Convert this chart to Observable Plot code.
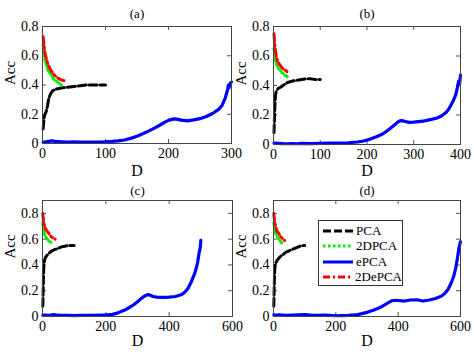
<!DOCTYPE html>
<html><head><meta charset="utf-8">
<script src="https://cdn.jsdelivr.net/npm/d3@7"></script>
<script src="https://cdn.jsdelivr.net/npm/@observablehq/plot@0.6"></script>
<style>
body{margin:0;background:#fff;}
#wrap{position:relative;width:474px;height:354px;font-family:"Liberation Serif","Times New Roman",serif;overflow:hidden;}
.p{position:absolute;}
.p svg{overflow:visible;}
#legend{position:absolute;left:318px;top:220px;width:85px;height:66px;border:1px solid #333;background:#fff;box-sizing:border-box;font-size:13px;padding-top:2px;}
#legend .row{display:flex;align-items:center;height:15.5px;margin-left:4px;}
#legend svg{margin-right:3px;}
</style></head><body><div id="wrap"></div>
<script>
// ---- tick labels / axes ----
const panelTitles = ["(a)", "(b)", "(c)", "(d)"];
const xMax = [300, 400, 600, 600];
const yMax = [0.8, 0.8, 0.9, 0.9];
const xTicksA = [0, 100, 200, 300];
const xTicksB = [0, 100, 200, 300, 400];
const xTicksC = [0, 200, 400, 600];
const xTicksD = [0, 200, 400, 600];
const yTicks = [0, 0.2, 0.4, 0.6, 0.8];
const seriesNames = ["PCA", "2DPCA", "ePCA", "2DePCA"];

// ---- PCA (D grid shared) ----
const pcaD = [1,2,3,4,5,6,8,10,13,16,20,25,30,40,50,60,70,80,90,100];
const pcaA = [0.10,0.15,0.19,0.20,0.21,0.22,0.26,0.31,0.34,0.36,0.37,0.375,0.38,0.385,0.39,0.395,0.40,0.40,0.40,0.40];
const pcaB = [0.08,0.18,0.26,0.32,0.35,0.36,0.37,0.38,0.385,0.39,0.40,0.41,0.42,0.43,0.435,0.44,0.445,0.445,0.44,0.44];
const pcaC = [0.08,0.20,0.30,0.38,0.42,0.43,0.45,0.46,0.47,0.48,0.49,0.50,0.51,0.52,0.53,0.54,0.545,0.55,0.55,0.55];
const pcaDd = [0.08,0.20,0.30,0.36,0.39,0.41,0.42,0.43,0.44,0.45,0.46,0.47,0.48,0.50,0.51,0.52,0.53,0.54,0.55,0.55];

// ---- 2DPCA ----
const tdD = [1,2,3,4,5,6,8,10,12,15,18,21,24,27,30];
const tdA = [0.68,0.64,0.60,0.57,0.55,0.54,0.51,0.49,0.48,0.46,0.44,0.43,0.42,0.41,0.40];
const tdB = [0.65,0.62,0.59,0.57,0.56,0.55,0.53,0.52,0.51,0.50,0.49,0.48,0.47,0.465,0.46];
const tdC = [0.73,0.70,0.68,0.66,0.65,0.645,0.63,0.62,0.61,0.60,0.59,0.585,0.58,0.575,0.57];
const tdDd = [0.73,0.71,0.69,0.67,0.66,0.65,0.64,0.63,0.62,0.61,0.60,0.59,0.58,0.57,0.565];

// ---- 2DePCA ----
const teD = [1,2,3,4,5,6,8,10,12,15,18,21,24,27,30,33,36,40];
const teA = [0.73,0.69,0.65,0.62,0.60,0.58,0.55,0.53,0.51,0.49,0.47,0.46,0.45,0.44,0.435,0.43,0.43];
const teB = [0.75,0.71,0.67,0.64,0.62,0.60,0.57,0.56,0.545,0.535,0.52,0.51,0.505,0.50,0.49];
const teC = [0.80,0.77,0.75,0.73,0.72,0.71,0.69,0.68,0.67,0.66,0.65,0.64,0.63,0.62,0.615,0.61,0.605,0.60];
const teDd = [0.80,0.77,0.75,0.73,0.72,0.71,0.69,0.67,0.66,0.65,0.64,0.63,0.615,0.61,0.60,0.595,0.59];

// ---- ePCA ----
const eD_a = [1,5,10,15,20,30,40,50,60,70,80,90,100,110,120,130,140,150,160,170,180,190,195,200,205,210,215,220,230,240,250,260,270,280,285,288,290,292,294,295,296,298,300];
const eA = [0.01,0.012,0.015,0.018,0.014,0.012,0.01,0.011,0.01,0.009,0.01,0.01,0.012,0.014,0.018,0.024,0.035,0.05,0.068,0.088,0.11,0.135,0.148,0.158,0.165,0.168,0.165,0.16,0.155,0.162,0.17,0.185,0.205,0.235,0.26,0.29,0.31,0.34,0.37,0.40,0.38,0.41,0.42];
const eD_b = [1,10,20,30,40,50,60,80,100,120,140,160,180,190,200,210,220,230,240,250,260,265,270,275,280,290,300,310,320,330,340,350,360,370,375,380,385,390,393,396,398,400];
const eB = [0.01,0.008,0.006,0.005,0.006,0.005,0.007,0.006,0.008,0.009,0.01,0.012,0.017,0.022,0.03,0.04,0.052,0.066,0.085,0.11,0.135,0.15,0.16,0.162,0.158,0.15,0.152,0.155,0.158,0.165,0.172,0.18,0.195,0.22,0.24,0.27,0.3,0.34,0.38,0.43,0.41,0.47];
const eD_c = [1,10,20,30,36,45,60,80,100,120,140,160,180,200,210,220,230,240,250,260,270,280,290,300,310,320,330,335,340,350,360,380,400,420,440,450,460,470,480,485,490,495,498,500];
const eC = [0.01,0.01,0.008,0.012,0.016,0.01,0.008,0.009,0.007,0.008,0.008,0.009,0.01,0.012,0.014,0.017,0.022,0.03,0.04,0.05,0.064,0.078,0.095,0.115,0.135,0.155,0.168,0.17,0.165,0.155,0.15,0.148,0.15,0.155,0.17,0.19,0.22,0.27,0.33,0.37,0.42,0.5,0.53,0.59];
const eD_d = [1,10,20,30,40,60,80,100,120,140,160,180,200,220,240,260,270,280,290,300,310,320,330,340,350,360,370,380,390,400,420,440,460,480,500,520,540,550,560,570,578,585,590,595,600];
const eDd = [0.012,0.01,0.012,0.01,0.008,0.01,0.012,0.015,0.01,0.008,0.01,0.008,0.006,0.007,0.008,0.012,0.015,0.02,0.026,0.032,0.04,0.048,0.058,0.068,0.08,0.095,0.11,0.122,0.126,0.124,0.12,0.128,0.13,0.12,0.128,0.14,0.16,0.18,0.21,0.26,0.31,0.38,0.45,0.53,0.58];

// ---- styles ----
const styles = {
  "PCA":    {stroke: "#000000", strokeWidth: 3, strokeDasharray: "8,3"},
  "2DPCA":  {stroke: "#00ee00", strokeWidth: 3, strokeDasharray: "2.5,2.5"},
  "ePCA":   {stroke: "#0000ff", strokeWidth: 3.2},
  "2DePCA": {stroke: "#ff0000", strokeWidth: 3, strokeDasharray: "7,3,2,3"}
};

const zip = (xs, ys) => ys.map((v, i) => ({D: xs[i], acc: v}));

const panels = [
  {title: panelTitles[0], xmax: xMax[0], ymax: yMax[0], xt: xTicksA, left: 0, top: 0, m: [26, 6, 34, 42], tdy: -13, ldy: 27,
   series: [zip(pcaD, pcaA), zip(tdD, tdA), zip(eD_a, eA), zip(teD, teA)]},
  {title: panelTitles[1], xmax: xMax[1], ymax: yMax[1], xt: xTicksB, left: 237, top: 0, m: [26, 14, 33, 36], tdy: -13, ldy: 26,
   series: [zip(pcaD, pcaB), zip(tdD, tdB), zip(eD_b, eB), zip(teD, teB)]},
  {title: panelTitles[2], xmax: xMax[2], ymax: yMax[2], xt: xTicksC, left: 0, top: 177, m: [23, 5, 38, 42], tdy: -10, ldy: 24,
   series: [zip(pcaD, pcaC), zip(tdD, tdC), zip(eD_c, eC), zip(teD, teC)]},
  {title: panelTitles[3], xmax: xMax[3], ymax: yMax[3], xt: xTicksD, left: 237, top: 177, m: [23, 14, 38, 36], tdy: -10, ldy: 24,
   series: [zip(pcaD, pcaDd), zip(tdD, tdDd), zip(eD_d, eDd), zip(teD, teDd)]}
];

const W = 237, H = 177;
const wrap = document.getElementById("wrap");

for (const p of panels) {
  const [mt, mr, mb, ml] = p.m;
  const fw = W - ml - mr, fh = H - mt - mb;
  const lineMarks = p.series.map((data, i) =>
    Plot.line(data, {x: "D", y: "acc", ...styles[seriesNames[i]], strokeLinejoin: "round"}));
  const chart = Plot.plot({
    width: W, height: H,
    marginTop: mt, marginRight: mr, marginBottom: mb, marginLeft: ml,
    style: {fontFamily: '"Liberation Serif","Times New Roman",serif', fontSize: "14px", background: "transparent", color: "#000"},
    x: {domain: [0, p.xmax]},
    y: {domain: [0, p.ymax]},
    marks: [
      Plot.axisX({ticks: p.xt, tickSize: 0, tickPadding: 5, tickFormat: d => String(d), fontSize: 14, label: null}),
      Plot.axisY({ticks: yTicks, tickSize: 0, tickPadding: 4, tickFormat: d => String(d), fontSize: 14, label: null}),
      Plot.tickX(p.xt, {x: d => d, insetTop: fh - 4, stroke: "#555"}),
      Plot.tickX(p.xt, {x: d => d, insetBottom: fh - 4, stroke: "#555"}),
      Plot.tickY(yTicks, {y: d => d, insetRight: fw - 4, stroke: "#555"}),
      Plot.tickY(yTicks, {y: d => d, insetLeft: fw - 4, stroke: "#555"}),
      ...lineMarks,
      Plot.frame({stroke: "#444"}),
      Plot.text([p.title], {text: d => d, frameAnchor: "top", lineAnchor: "middle", dy: p.tdy, fontSize: 13}),
      Plot.text(["D"], {text: d => d, frameAnchor: "bottom", lineAnchor: "middle", dy: p.ldy, fontSize: 16}),
      Plot.text(["Acc"], {text: d => d, frameAnchor: "left", lineAnchor: "middle", dx: -32, rotate: -90, fontSize: 15})
    ]
  });
  const div = document.createElement("div");
  div.className = "p";
  div.style.left = p.left + "px";
  div.style.top = p.top + "px";
  div.appendChild(chart);
  wrap.appendChild(div);
}

// legend in panel (d)
const legend = document.createElement("div");
legend.id = "legend";
for (const name of seriesNames) {
  const s = styles[name];
  const row = document.createElement("div");
  row.className = "row";
  row.innerHTML = `<svg width="30" height="6"><line x1="0" y1="3" x2="30" y2="3" stroke="${s.stroke}" stroke-width="3" ${s.strokeDasharray ? `stroke-dasharray="${s.strokeDasharray}"` : ""}/></svg><span>${name}</span>`;
  legend.appendChild(row);
}
wrap.appendChild(legend);
</script>
</body></html>
